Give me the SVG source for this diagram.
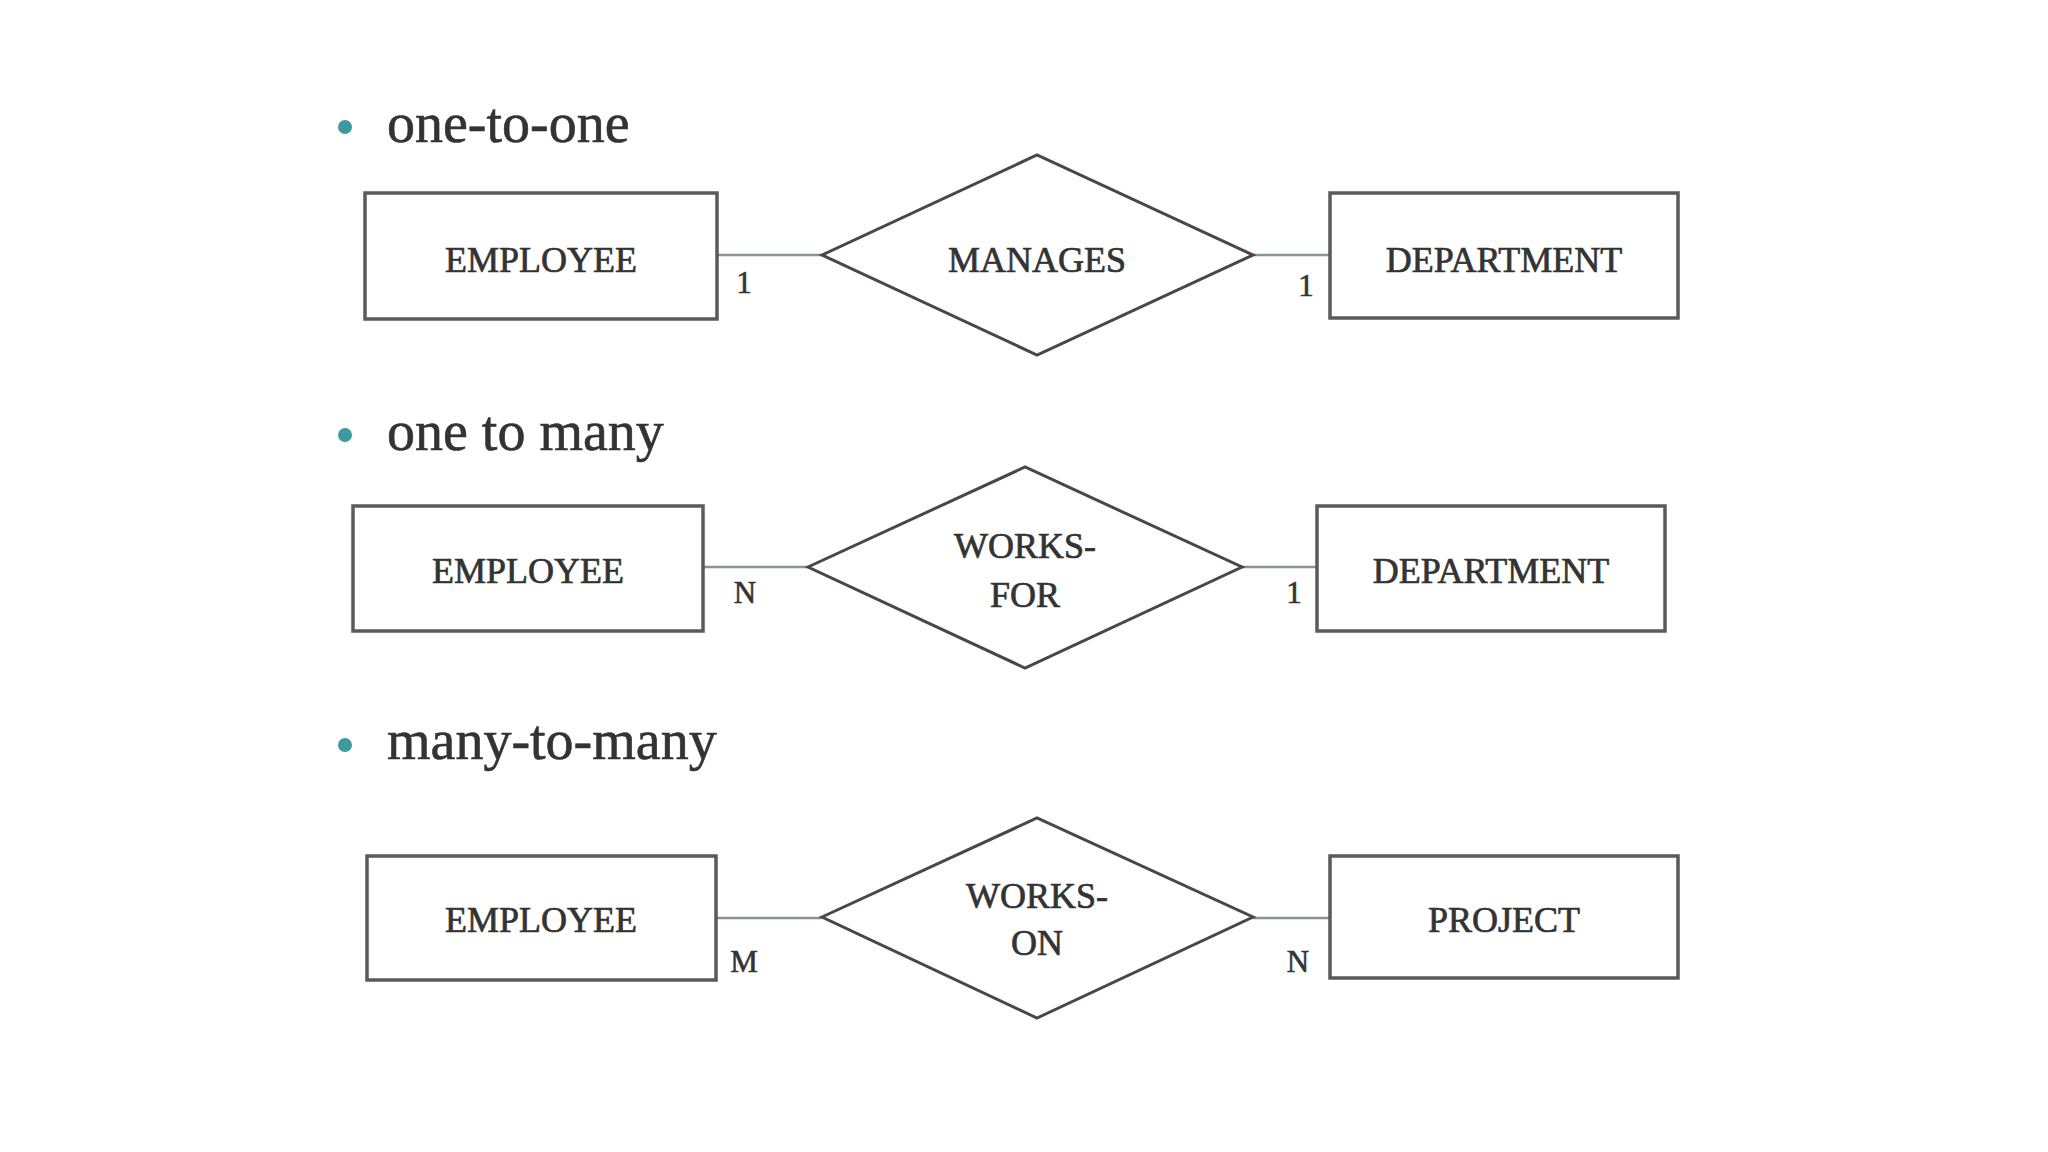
<svg xmlns="http://www.w3.org/2000/svg" width="2048" height="1152" viewBox="0 0 2048 1152">
<style>
.bg{fill:#ffffff}
.ent{fill:#ffffff;stroke:#5a5a5a;stroke-width:3.5}
.rel{fill:#ffffff;stroke:#4e4448;stroke-width:3}
.lbl{font-family:"Liberation Serif","Times New Roman",serif;font-size:36px;fill:#333333;stroke:#333333;stroke-width:0.7;text-anchor:middle}
.card{font-family:"Liberation Serif","Times New Roman",serif;font-size:31px;fill:#333333;stroke:#333333;stroke-width:0.6;text-anchor:middle}
.head{font-family:"Liberation Serif","Times New Roman",serif;font-size:56px;fill:#333333;stroke:#333333;stroke-width:0.6}
.bul{fill:#3c9a9c}
.con{stroke:#8a9494;stroke-width:2.5;fill:none}
</style>
<rect class="bg" x="0" y="0" width="2048" height="1152"/>

<g id="headings">
<circle class="bul" cx="345" cy="127" r="7"/>
<text class="head" x="387" y="142">one-to-one</text>
<circle class="bul" cx="345" cy="435" r="7"/>
<text class="head" x="387" y="450">one to many</text>
<circle class="bul" cx="345" cy="745" r="7"/>
<text class="head" x="387" y="759">many-to-many</text>
</g>

<g id="connectors">
<line class="con" x1="717" y1="255" x2="822" y2="255"/>
<line class="con" x1="1253" y1="255" x2="1330" y2="255"/>
<line class="con" x1="703" y1="567" x2="808" y2="567"/>
<line class="con" x1="1242" y1="567" x2="1317" y2="567"/>
<line class="con" x1="716" y1="918" x2="822" y2="918"/>
<line class="con" x1="1253" y1="918" x2="1330" y2="918"/>
<text class="card" x="744" y="293">1</text>
<text class="card" x="1306" y="296">1</text>
<text class="card" x="745" y="603">N</text>
<text class="card" x="1294" y="603">1</text>
<text class="card" x="744" y="972">M</text>
<text class="card" x="1298" y="972">N</text>
</g>

<g id="employee1">
<rect class="ent" x="365" y="193" width="352" height="126"/>
<text class="lbl" x="541" y="272">EMPLOYEE</text>
</g>
<g id="manages">
<polygon class="rel" points="822,255 1037,155 1253,255 1037,355"/>
<text class="lbl" x="1037" y="272">MANAGES</text>
</g>
<g id="department1">
<rect class="ent" x="1330" y="193" width="348" height="125"/>
<text class="lbl" x="1504" y="272">DEPARTMENT</text>
</g>

<g id="employee2">
<rect class="ent" x="353" y="506" width="350" height="125"/>
<text class="lbl" x="528" y="583">EMPLOYEE</text>
</g>
<g id="works-for">
<polygon class="rel" points="808,567 1025,467 1242,567 1025,668"/>
<text class="lbl" x="1025" y="558">WORKS-</text>
<text class="lbl" x="1025" y="607">FOR</text>
</g>
<g id="department2">
<rect class="ent" x="1317" y="506" width="348" height="125"/>
<text class="lbl" x="1491" y="583">DEPARTMENT</text>
</g>

<g id="employee3">
<rect class="ent" x="367" y="856" width="349" height="124"/>
<text class="lbl" x="541" y="932">EMPLOYEE</text>
</g>
<g id="works-on">
<polygon class="rel" points="822,917 1037,818 1253,917 1037,1018"/>
<text class="lbl" x="1037" y="908">WORKS-</text>
<text class="lbl" x="1037" y="955">ON</text>
</g>
<g id="project">
<rect class="ent" x="1330" y="856" width="348" height="122"/>
<text class="lbl" x="1504" y="932">PROJECT</text>
</g>
</svg>
